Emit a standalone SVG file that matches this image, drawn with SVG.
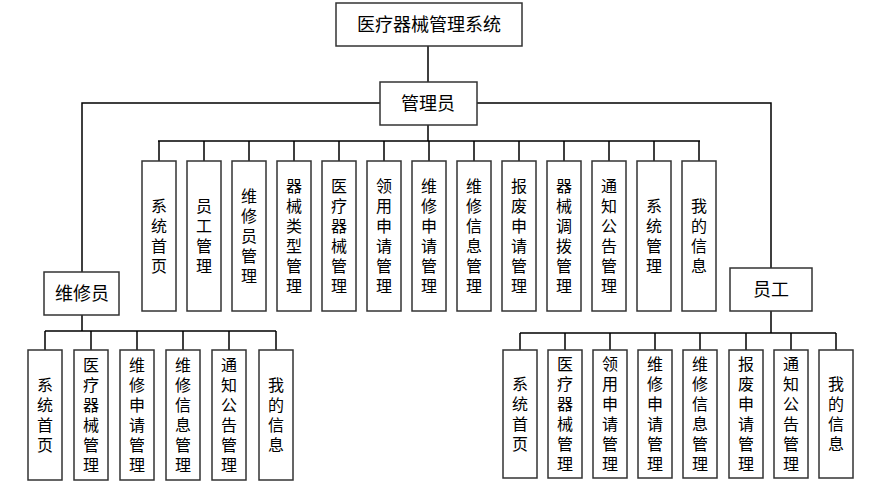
<svg xmlns="http://www.w3.org/2000/svg" width="896" height="492" viewBox="0 0 896 492">
<style>
rect{fill:#fff;stroke:#333;stroke-width:1.5}
text{font-family:"Noto Sans CJK SC",sans-serif;font-size:16px;fill:#000;text-anchor:middle}
.t{font-size:18px}
#c path{fill:none;stroke:#000;stroke-width:1.5}
</style>
<g id="c">
<path d="M428 46V82M380 103H82V272M477 103H771V268M428 125V141M158 141H700"/>
<path d="M159 141V161M204 141V161M249 141V161M294 141V161M339 141V161M384 141V161M429 141V161M474 141V161M519 141V161M564 141V161M609 141V161M654 141V161M699 141V161"/>
<path d="M82 315V331M45 331H276M45 331V350M91 331V350M137 331V350M183 331V350M229 331V350M276 331V350"/>
<path d="M771 311V333M520 333H836M520 333V350M565 333V350M610 333V350M655 333V350M700 333V350M746 333V350M791 333V350M836 333V350"/>
</g>
<g id="root"><rect x="336" y="3" width="186" height="43"/><text class="t" x="429" y="31">医疗器械管理系统</text></g>
<g id="admin"><rect x="380" y="82" width="97" height="43"/><text class="t" x="428" y="110">管理员</text></g>
<g id="repair"><rect x="44" y="272" width="75" height="43"/><text class="t" x="82" y="300">维修员</text></g>
<g id="staff"><rect x="730" y="268" width="82" height="43"/><text class="t" x="771" y="296">员工</text></g>
<g id="a1"><rect x="142" y="161" width="34" height="150"/><text x="159" y="212">系</text><text x="159" y="232">统</text><text x="159" y="252">首</text><text x="159" y="272">页</text></g>
<g id="a2"><rect x="187" y="161" width="34" height="150"/><text x="204" y="212">员</text><text x="204" y="232">工</text><text x="204" y="252">管</text><text x="204" y="272">理</text></g>
<g id="a3"><rect x="232" y="161" width="34" height="150"/><text x="249" y="202">维</text><text x="249" y="222">修</text><text x="249" y="242">员</text><text x="249" y="262">管</text><text x="249" y="282">理</text></g>
<g id="a4"><rect x="277" y="161" width="34" height="150"/><text x="294" y="192">器</text><text x="294" y="212">械</text><text x="294" y="232">类</text><text x="294" y="252">型</text><text x="294" y="272">管</text><text x="294" y="292">理</text></g>
<g id="a5"><rect x="322" y="161" width="34" height="150"/><text x="339" y="192">医</text><text x="339" y="212">疗</text><text x="339" y="232">器</text><text x="339" y="252">械</text><text x="339" y="272">管</text><text x="339" y="292">理</text></g>
<g id="a6"><rect x="367" y="161" width="34" height="150"/><text x="384" y="192">领</text><text x="384" y="212">用</text><text x="384" y="232">申</text><text x="384" y="252">请</text><text x="384" y="272">管</text><text x="384" y="292">理</text></g>
<g id="a7"><rect x="412" y="161" width="34" height="150"/><text x="429" y="192">维</text><text x="429" y="212">修</text><text x="429" y="232">申</text><text x="429" y="252">请</text><text x="429" y="272">管</text><text x="429" y="292">理</text></g>
<g id="a8"><rect x="457" y="161" width="34" height="150"/><text x="474" y="192">维</text><text x="474" y="212">修</text><text x="474" y="232">信</text><text x="474" y="252">息</text><text x="474" y="272">管</text><text x="474" y="292">理</text></g>
<g id="a9"><rect x="502" y="161" width="34" height="150"/><text x="519" y="192">报</text><text x="519" y="212">废</text><text x="519" y="232">申</text><text x="519" y="252">请</text><text x="519" y="272">管</text><text x="519" y="292">理</text></g>
<g id="a10"><rect x="547" y="161" width="34" height="150"/><text x="564" y="192">器</text><text x="564" y="212">械</text><text x="564" y="232">调</text><text x="564" y="252">拨</text><text x="564" y="272">管</text><text x="564" y="292">理</text></g>
<g id="a11"><rect x="592" y="161" width="34" height="150"/><text x="609" y="192">通</text><text x="609" y="212">知</text><text x="609" y="232">公</text><text x="609" y="252">告</text><text x="609" y="272">管</text><text x="609" y="292">理</text></g>
<g id="a12"><rect x="637" y="161" width="34" height="150"/><text x="654" y="212">系</text><text x="654" y="232">统</text><text x="654" y="252">管</text><text x="654" y="272">理</text></g>
<g id="a13"><rect x="682" y="161" width="34" height="150"/><text x="699" y="212">我</text><text x="699" y="232">的</text><text x="699" y="252">信</text><text x="699" y="272">息</text></g>
<g id="r1"><rect x="28" y="350" width="34" height="130"/><text x="45" y="391">系</text><text x="45" y="411">统</text><text x="45" y="431">首</text><text x="45" y="451">页</text></g>
<g id="r2"><rect x="74" y="350" width="34" height="130"/><text x="91" y="371">医</text><text x="91" y="391">疗</text><text x="91" y="411">器</text><text x="91" y="431">械</text><text x="91" y="451">管</text><text x="91" y="471">理</text></g>
<g id="r3"><rect x="120" y="350" width="34" height="130"/><text x="137" y="371">维</text><text x="137" y="391">修</text><text x="137" y="411">申</text><text x="137" y="431">请</text><text x="137" y="451">管</text><text x="137" y="471">理</text></g>
<g id="r4"><rect x="166" y="350" width="34" height="130"/><text x="183" y="371">维</text><text x="183" y="391">修</text><text x="183" y="411">信</text><text x="183" y="431">息</text><text x="183" y="451">管</text><text x="183" y="471">理</text></g>
<g id="r5"><rect x="212" y="350" width="34" height="130"/><text x="229" y="371">通</text><text x="229" y="391">知</text><text x="229" y="411">公</text><text x="229" y="431">告</text><text x="229" y="451">管</text><text x="229" y="471">理</text></g>
<g id="r6"><rect x="259" y="350" width="34" height="130"/><text x="276" y="391">我</text><text x="276" y="411">的</text><text x="276" y="431">信</text><text x="276" y="451">息</text></g>
<g id="s1"><rect x="503" y="350" width="34" height="128"/><text x="520" y="390">系</text><text x="520" y="410">统</text><text x="520" y="430">首</text><text x="520" y="450">页</text></g>
<g id="s2"><rect x="548" y="350" width="34" height="128"/><text x="565" y="370">医</text><text x="565" y="390">疗</text><text x="565" y="410">器</text><text x="565" y="430">械</text><text x="565" y="450">管</text><text x="565" y="470">理</text></g>
<g id="s3"><rect x="593" y="350" width="34" height="128"/><text x="610" y="370">领</text><text x="610" y="390">用</text><text x="610" y="410">申</text><text x="610" y="430">请</text><text x="610" y="450">管</text><text x="610" y="470">理</text></g>
<g id="s4"><rect x="638" y="350" width="34" height="128"/><text x="655" y="370">维</text><text x="655" y="390">修</text><text x="655" y="410">申</text><text x="655" y="430">请</text><text x="655" y="450">管</text><text x="655" y="470">理</text></g>
<g id="s5"><rect x="683" y="350" width="34" height="128"/><text x="700" y="370">维</text><text x="700" y="390">修</text><text x="700" y="410">信</text><text x="700" y="430">息</text><text x="700" y="450">管</text><text x="700" y="470">理</text></g>
<g id="s6"><rect x="729" y="350" width="34" height="128"/><text x="746" y="370">报</text><text x="746" y="390">废</text><text x="746" y="410">申</text><text x="746" y="430">请</text><text x="746" y="450">管</text><text x="746" y="470">理</text></g>
<g id="s7"><rect x="774" y="350" width="34" height="128"/><text x="791" y="370">通</text><text x="791" y="390">知</text><text x="791" y="410">公</text><text x="791" y="430">告</text><text x="791" y="450">管</text><text x="791" y="470">理</text></g>
<g id="s8"><rect x="819" y="350" width="34" height="128"/><text x="836" y="390">我</text><text x="836" y="410">的</text><text x="836" y="430">信</text><text x="836" y="450">息</text></g>
</svg>
